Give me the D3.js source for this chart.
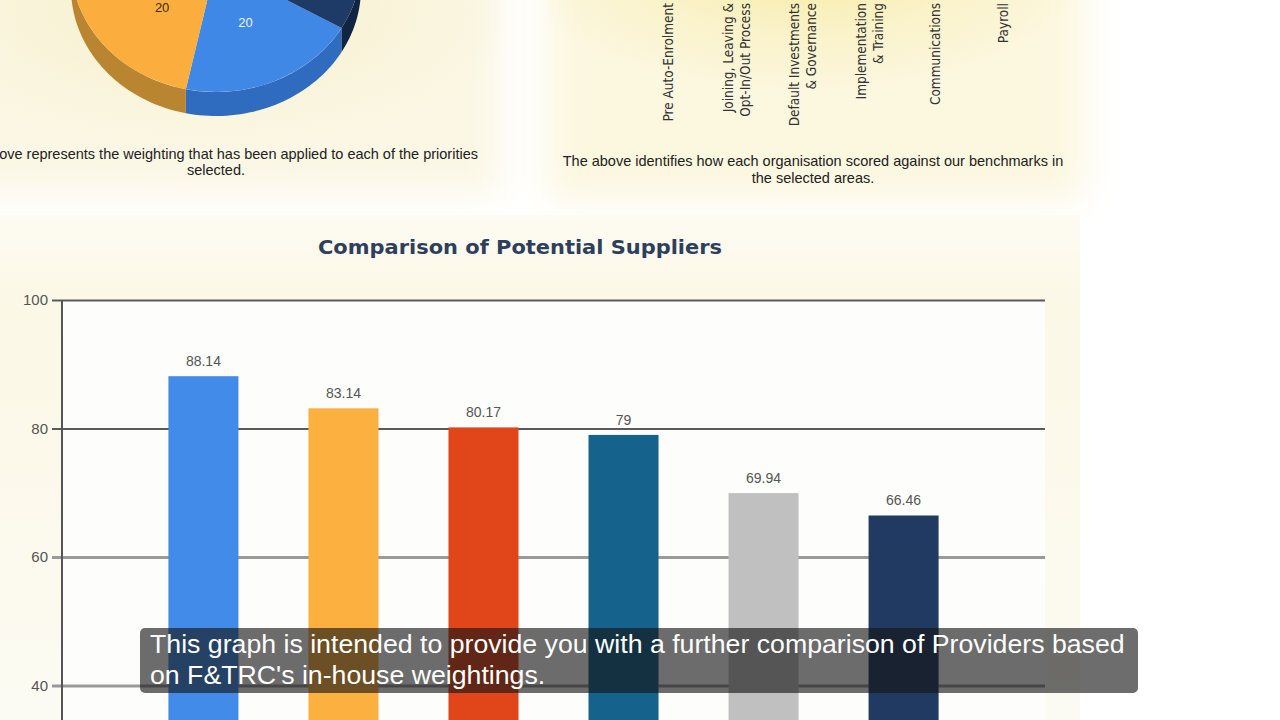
<!DOCTYPE html>
<html><head><meta charset="utf-8">
<script src="https://cdn.jsdelivr.net/npm/d3@7/dist/d3.min.js"></script>
<style>html,body{margin:0;padding:0;background:#fff;overflow:hidden}svg{display:block}</style>
</head><body><svg id="c" width="1280" height="720"></svg>
<script>
// ---- data ----
const suppliers = ["Provider A","Provider B","Provider C","Provider D","Provider E","Provider F"];
const scores = [88.14, 83.14, 80.17, 79, 69.94, 66.46];
const scoreLabels = ["88.14","83.14","80.17","79","69.94","66.46"];
const barColors = ["#428be8","#fbb040","#e0461a","#15628d","#c0c0c0","#203a62"];
const yTicks = [40, 60, 80, 100];

const pieNames = ["Joining, Leaving & Opt-In/Out Process","Pre Auto-Enrolment","Default Investments & Governance","Implementation & Training","Communications","Payroll"];
const pieValues = [20, 20, 15, 15, 10, 20];
const pieColors = ["#3f88e6","#fbae3e","#e0461a","#15628d","#c0c0c0","#1e3a66"];
const pieRim = ["#2f6cc0","#b98530","#a83510","#0e4766","#909090","#102544"];
const pieLabelColors = ["#eef4ff","#3a2a10","#fff","#fff","#333","#fff"];

const benchmarkAreas = [["Pre Auto-Enrolment"],["Joining, Leaving &","Opt-In/Out Process"],["Default Investments","& Governance"],["Implementation","& Training"],["Communications"],["Payroll"]];
const benchmarkX = [668, 728, 794, 861, 935, 1003];

const svg = d3.select("#c");
const defs = svg.append("defs");

// ---- backgrounds ----
defs.append("filter").attr("id","soft").attr("x","-20%").attr("y","-20%").attr("width","140%").attr("height","140%")
  .append("feGaussianBlur").attr("stdDeviation", 18);
function radial(id, cxp, cyp, r, stops) {
  const g = defs.append("radialGradient").attr("id", id).attr("cx", cxp).attr("cy", cyp).attr("r", r);
  stops.forEach(s => g.append("stop").attr("offset", s[0]).attr("stop-color", s[1]).attr("stop-opacity", s[2]));
}
radial("glowTL", "0.45", "0.2", "0.6", [[0,"#f6efcc",1],[1,"#f6efcc",0]]);
radial("glowTR", "0.48", "0.0", "0.55", [[0,"#f6ea98",1],[0.6,"#f9f0bf",0.6],[1,"#f9f0bf",0]]);
const lg3 = defs.append("linearGradient").attr("id","bgB").attr("x1","0").attr("y1","0").attr("x2","0").attr("y2","1");
lg3.append("stop").attr("offset","0").attr("stop-color","#fdfbf2");
lg3.append("stop").attr("offset","0.18").attr("stop-color","#fcf8e6");
lg3.append("stop").attr("offset","1").attr("stop-color","#fcfbf3");

svg.append("rect").attr("x",0).attr("y",0).attr("width",1280).attr("height",720).attr("fill","#ffffff");
svg.append("rect").attr("x",-40).attr("y",-40).attr("width",540).attr("height",235).attr("fill","#fbf7e4").attr("filter","url(#soft)");
svg.append("rect").attr("x",-40).attr("y",-40).attr("width",540).attr("height",235).attr("fill","url(#glowTL)");
svg.append("rect").attr("x",548).attr("y",-40).attr("width",535).attr("height",240).attr("fill","#fcf7df").attr("filter","url(#soft)");
svg.append("rect").attr("x",548).attr("y",-40).attr("width",535).attr("height",240).attr("fill","url(#glowTR)");
svg.append("rect").attr("x",0).attr("y",215).attr("width",1080).attr("height",505).attr("fill","url(#bgB)");
svg.append("rect").attr("x",62).attr("y",300).attr("width",983).attr("height",420).attr("fill","#fdfdfb");

// ---- 3D pie (partial, top-left) ----
const cx = 216, cy = -36, rx = 145, ry = 128, depth = 24;
const pie = d3.pie().sort(null).value(d => d).startAngle(120*Math.PI/180).endAngle(480*Math.PI/180);
const arcs = pie(pieValues);
const pg = svg.append("g");
const pt = (a, dy) => [cx + rx*Math.sin(a), cy - ry*Math.cos(a) + dy];
arcs.forEach((s, i) => {
  let segs = [];
  for (let k = 0; k < 2; k++) {
    const off = k*2*Math.PI;
    const a0 = Math.max(s.startAngle - off, Math.PI/2), a1 = Math.min(s.endAngle - off, 3*Math.PI/2);
    if (a1 > a0) segs.push([a0, a1]);
  }
  segs.forEach(([a0, a1]) => {
    const n = 40;
    const top = d3.range(n+1).map(j => pt(a0 + (a1-a0)*j/n, 0));
    const bot = d3.range(n+1).map(j => pt(a1 - (a1-a0)*j/n, depth));
    pg.append("path").attr("d", d3.line()(top.concat(bot)) + "Z").attr("fill", pieRim[i]);
  });
});
const arcGen = d3.arc().innerRadius(0).outerRadius(rx);
const faces = pg.append("g").attr("transform", `translate(${cx},${cy}) scale(1,${ry/rx})`);
faces.selectAll("path").data(arcs).join("path").attr("d", arcGen).attr("fill", (d,i) => pieColors[i]);
const lblArc = d3.arc().innerRadius(rx*0.5).outerRadius(rx*0.5);
const lblY = d => cy + lblArc.centroid(d)[1]*ry/rx + 5;
pg.selectAll("text").data(arcs.filter(d => lblY(d) > 8)).join("text")
  .attr("x", d => cx + lblArc.centroid(d)[0])
  .attr("y", d => lblY(d))
  .attr("text-anchor","middle").attr("font-family","'Liberation Sans Narrow','Liberation Sans',Arial,sans-serif")
  .attr("font-size",13).attr("fill",d=>pieLabelColors[d.index]).text(d => d.data);

// ---- captions ----
const capFont = "'Liberation Sans',Arial,sans-serif";
const cap1 = svg.append("text").attr("font-family",capFont).attr("font-size",14.5).attr("fill","#222").attr("text-anchor","middle");
cap1.append("tspan").attr("x",216).attr("y",159).text("The above represents the weighting that has been applied to each of the priorities");
cap1.append("tspan").attr("x",216).attr("y",175).text("selected.");
const cap2 = svg.append("text").attr("font-family",capFont).attr("font-size",14.5).attr("fill","#222").attr("text-anchor","middle");
cap2.append("tspan").attr("x",813).attr("y",166).text("The above identifies how each organisation scored against our benchmarks in");
cap2.append("tspan").attr("x",813).attr("y",183).text("the selected areas.");

// ---- rotated benchmark labels ----
benchmarkAreas.forEach((lines, i) => {
  lines.forEach((ln, j) => {
    const xx = benchmarkX[i] + j*17 + 5;
    svg.append("text").attr("transform",`translate(${xx},3) rotate(-90)`)
      .attr("text-anchor","end").attr("font-family","'DejaVu Sans Condensed','DejaVu Sans',sans-serif")
      .attr("font-size",13.5).attr("fill","#333").text(ln);
  });
});

// ---- bar chart ----
const x = d3.scaleBand().domain(suppliers).range([62, 1045]).paddingInner(0.5).paddingOuter(0.76);
const y = d3.scaleLinear().domain([0, 100]).range([942.5, 300]);

svg.append("text").attr("x",520).attr("y",254).attr("text-anchor","middle")
  .attr("font-family","'DejaVu Sans',Verdana,sans-serif").attr("font-weight","bold")
  .attr("font-size",20).attr("fill","#2e3f5e").attr("textLength",404).attr("lengthAdjust","spacingAndGlyphs")
  .text("Comparison of Potential Suppliers");

const yAxis = d3.axisLeft(y).tickValues(yTicks).tickSize(-983).tickPadding(4);
const ga = svg.append("g").attr("transform","translate(62,0)").call(yAxis);
ga.select(".domain").remove();
ga.selectAll(".tick line").attr("x1",-10).attr("stroke", d => d >= 80 ? "#5a5a5a" : "#9a9a9a").attr("stroke-width", d => d >= 80 ? 2 : 3);
ga.selectAll(".tick text").attr("x",-14).attr("font-family","'Liberation Sans Narrow','Liberation Sans',Arial,sans-serif").attr("font-size",15).attr("fill","#555");
svg.append("line").attr("x1",62).attr("x2",62).attr("y1",y(100)).attr("y2",720).attr("stroke","#555").attr("stroke-width",2);

svg.append("g").selectAll("rect").data(scores).join("rect")
  .attr("x",(d,i)=>x(suppliers[i])).attr("width",x.bandwidth())
  .attr("y",d=>y(d)).attr("height",d=>y(0)-y(d)).attr("fill",(d,i)=>barColors[i]);

svg.append("g").selectAll("text").data(scores).join("text")
  .attr("x",(d,i)=>x(suppliers[i])+x.bandwidth()/2).attr("y",d=>y(d)-10)
  .attr("text-anchor","middle").attr("font-family","'Liberation Sans Narrow','Liberation Sans',Arial,sans-serif")
  .attr("font-size",14).attr("fill","#555").text((d,i)=>scoreLabels[i]);

// ---- subtitle overlay ----
svg.append("rect").attr("x",140).attr("y",628).attr("width",998).attr("height",65).attr("rx",5)
  .attr("fill","rgba(20,20,20,0.62)");
const sub = svg.append("text").attr("font-family","'Liberation Sans',Arial,sans-serif").attr("font-size",26.7).attr("fill","#fff");
sub.append("tspan").attr("x",150).attr("y",653).text("This graph is intended to provide you with a further comparison of Providers based");
sub.append("tspan").attr("x",150).attr("y",684).text("on F&TRC's in-house weightings.");
</script></body></html>
